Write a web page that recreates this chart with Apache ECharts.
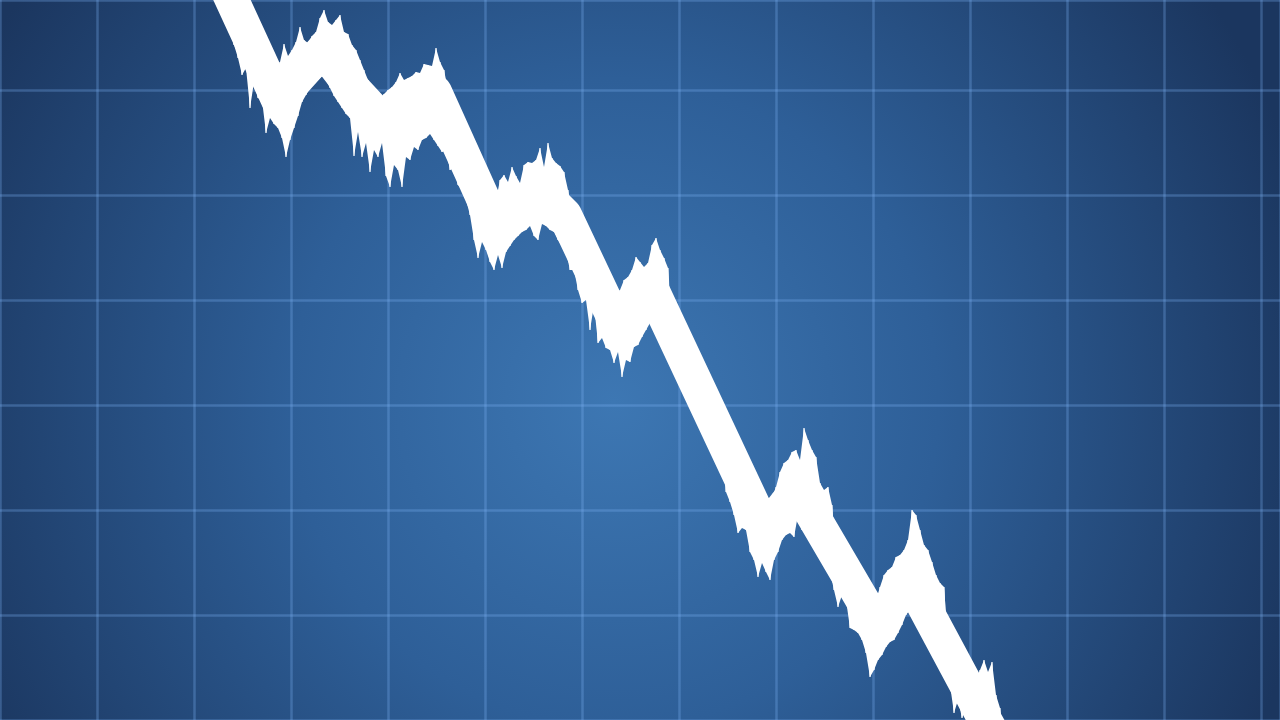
<!DOCTYPE html>
<html>
<head>
<meta charset="utf-8">
<script src="https://cdn.jsdelivr.net/npm/echarts@6/dist/echarts.min.js"></script>
<style>
html,body{margin:0;padding:0;width:1280px;height:720px;overflow:hidden;background:#1d3a66;}
#c{width:1280px;height:720px;}
</style>
</head>
<body>
<div id="c"></div>
<script>
// Main trend of the price line: time (x) and price (y)
const trendTime  = [218, 232, 278, 323, 350, 375, 390, 410, 435, 495, 520, 545, 565, 617, 635, 650, 765, 785, 798, 877, 895, 910, 985, 1010];
const trendPrice = [750, 720, 620, 670, 635, 608, 605, 615, 628, 495, 515, 525, 505, 395, 415, 435, 190, 215, 230,  95, 120, 140,   0,  -45];

// High-frequency noise: [time, high, low]
const noiseTicks = [
[228,728,690],[232,720,675],[236,711,662],[240,703,645],[244,694,652],[248,685,612],[252,677,638],[256,668,622],[260,659,620],[264,651,587],
[268,646,602],[272,643,596],[276,643,592],[280,658,582],[284,676,563],[288,664,580],[292,670,592],[296,678,604],[300,693,618],[304,680,625],
[308,677,632],[312,684,636],[316,688,640],[320,702,644],[324,710,640],[328,698,632],[332,695,624],[336,700,618],[340,705,612],[344,688,606],
[348,686,602],[352,675,564],[356,670,588],[360,660,563],[364,650,577],[368,640,548],[372,632,570],[376,625,563],[380,622,577],[384,626,544],
[388,630,533],[392,633,555],[396,638,550],[400,647,533],[404,640,563],[408,642,560],[412,644,573],[416,648,570],[420,647,580],[424,656,582],
[428,655,586],[432,654,580],[436,672,574],[440,658,568],[444,650,570],[448,630,550],[452,615,552],[456,600,535],[460,580,530],[464,572,520],
[468,555,505],[472,545,480],[476,540,462],[480,530,478],[484,522,470],[488,515,458],[492,513,450],[496,520,465],[500,540,452],[504,545,468],
[508,538,474],[512,553,480],[516,544,484],[520,537,488],[524,555,490],[528,558,494],[532,557,484],[536,560,480],[540,572,496],[544,553,494],
[548,577,490],[552,562,488],[556,557,480],[560,554,474],[564,548,468],[568,530,450],[572,510,450],[576,482,430],[580,474,417],[584,465,420],
[588,457,390],[592,448,415],[596,440,377],[600,430,382],[604,424,372],[608,420,370],[612,417,357],[616,417,368],[620,430,343],[624,440,360],
[628,443,358],[632,450,373],[636,463,375],[640,458,383],[644,453,390],[648,457,397],[652,475,400],[656,482,402],[660,470,400],[664,462,398],
[668,452,394],
[724,280,228],[728,272,218],[732,263,205],[736,254,187],[740,246,192],[744,237,190],[748,228,168],[752,220,160],[756,215,143],[760,215,157],
[764,215,148],[768,215,140],[772,223,160],[776,233,168],[780,248,180],[784,257,185],[788,260,187],[792,268,183],[796,270,205],[800,260,190],
[804,292,192],[808,280,188],[812,270,180],[816,263,172],[820,237,160],[824,230,153],[828,233,148],[832,215,130],[836,170,113],[840,162,125],
[844,155,120],[848,148,92],[852,141,90],[856,134,87],[860,127,80],[864,120,67],[868,120,43],[872,120,50],[876,120,60],[880,133,65],
[884,145,73],[888,150,78],[892,153,80],[896,163,87],[900,165,95],[904,170,105],[908,180,110],[912,210,108],[916,205,105],[920,190,100],
[924,175,96],[928,170,92],[932,158,84],[936,145,78],[940,137,70],[944,133,65],[948,80,35],[952,72,7],[956,65,20],[960,57,2],
[964,50,12],[968,42,0],[972,35,5],[976,40,-5],[980,50,-5],[984,60,-10],[988,48,-10],[992,58,-15],[996,25,-20],[1000,12,-25]
];

// Axis ranges / grid steps
const timeRange  = [0, 1280];
const priceRange = [0, 720];
const timeStep   = 97;
const priceStep  = 105;

// Build data for the library
const trendData = trendTime.map((t, i) => [t, trendPrice[i]]);
// split the noise ticks into continuous runs and make one outline per run
const runs = [];
let cur = [];
noiseTicks.forEach((d, i) => {
  if (i > 0 && d[0] - noiseTicks[i - 1][0] > 8) { runs.push(cur); cur = []; }
  cur.push(d);
});
runs.push(cur);
const outlines = runs.map(r => {
  const upper = r.map(d => [d[0], d[1]]);
  const lower = r.slice().reverse().map(d => [d[0] + 2, d[2]]);
  return upper.concat(lower);
});
const zigzags = runs.map(r => {
  const out = [];
  r.forEach(d => { out.push([d[0], d[1]]); out.push([d[0] + 2, d[2]]); });
  return out;
});

const chart = echarts.init(document.getElementById('c'), null, {renderer: 'canvas'});

const noiseFill = {
  type: 'custom',
  silent: true,
  z: 3,
  data: outlines.map((o, i) => [o[0][0], o[0][1], i]),
  renderItem: function (params, api) {
    const pts = outlines[params.dataIndex].map(p => api.coord(p));
    return {type: 'polygon', shape: {points: pts}, style: {fill: '#ffffff'}};
  }
};
const noiseLines = zigzags.map(g => ({
  type: 'line',
  data: g,
  symbol: 'none',
  silent: true,
  z: 3,
  lineStyle: {color: '#ffffff', width: 1.2}
}));

chart.setOption({
  animation: false,
  backgroundColor: {
    type: 'radial', x: 0.48, y: 0.56, r: 1.0,
    colorStops: [
      {offset: 0, color: '#3d77b3'},
      {offset: 0.45, color: '#2e5f98'},
      {offset: 1, color: '#1b365f'}
    ]
  },
  grid: {left: 0, right: 0, top: 0, bottom: 0, containLabel: false},
  xAxis: {
    type: 'value', min: timeRange[0], max: timeRange[1], interval: timeStep,
    axisLine: {show: false}, axisTick: {show: false}, axisLabel: {show: false},
    splitLine: {show: true, lineStyle: {color: 'rgba(125,180,245,0.30)', width: 2.5}}
  },
  yAxis: {
    type: 'value', min: priceRange[0], max: priceRange[1], interval: priceStep,
    axisLine: {show: false}, axisTick: {show: false}, axisLabel: {show: false},
    splitLine: {show: true, lineStyle: {color: 'rgba(125,180,245,0.30)', width: 2.5}}
  },
  series: [{
    type: 'line',
    data: trendData,
    symbol: 'none',
    silent: true,
    z: 4,
    lineStyle: {color: '#ffffff', width: 34, join: 'round', cap: 'round'}
  }, noiseFill].concat(noiseLines)
});
</script>
</body>
</html>
